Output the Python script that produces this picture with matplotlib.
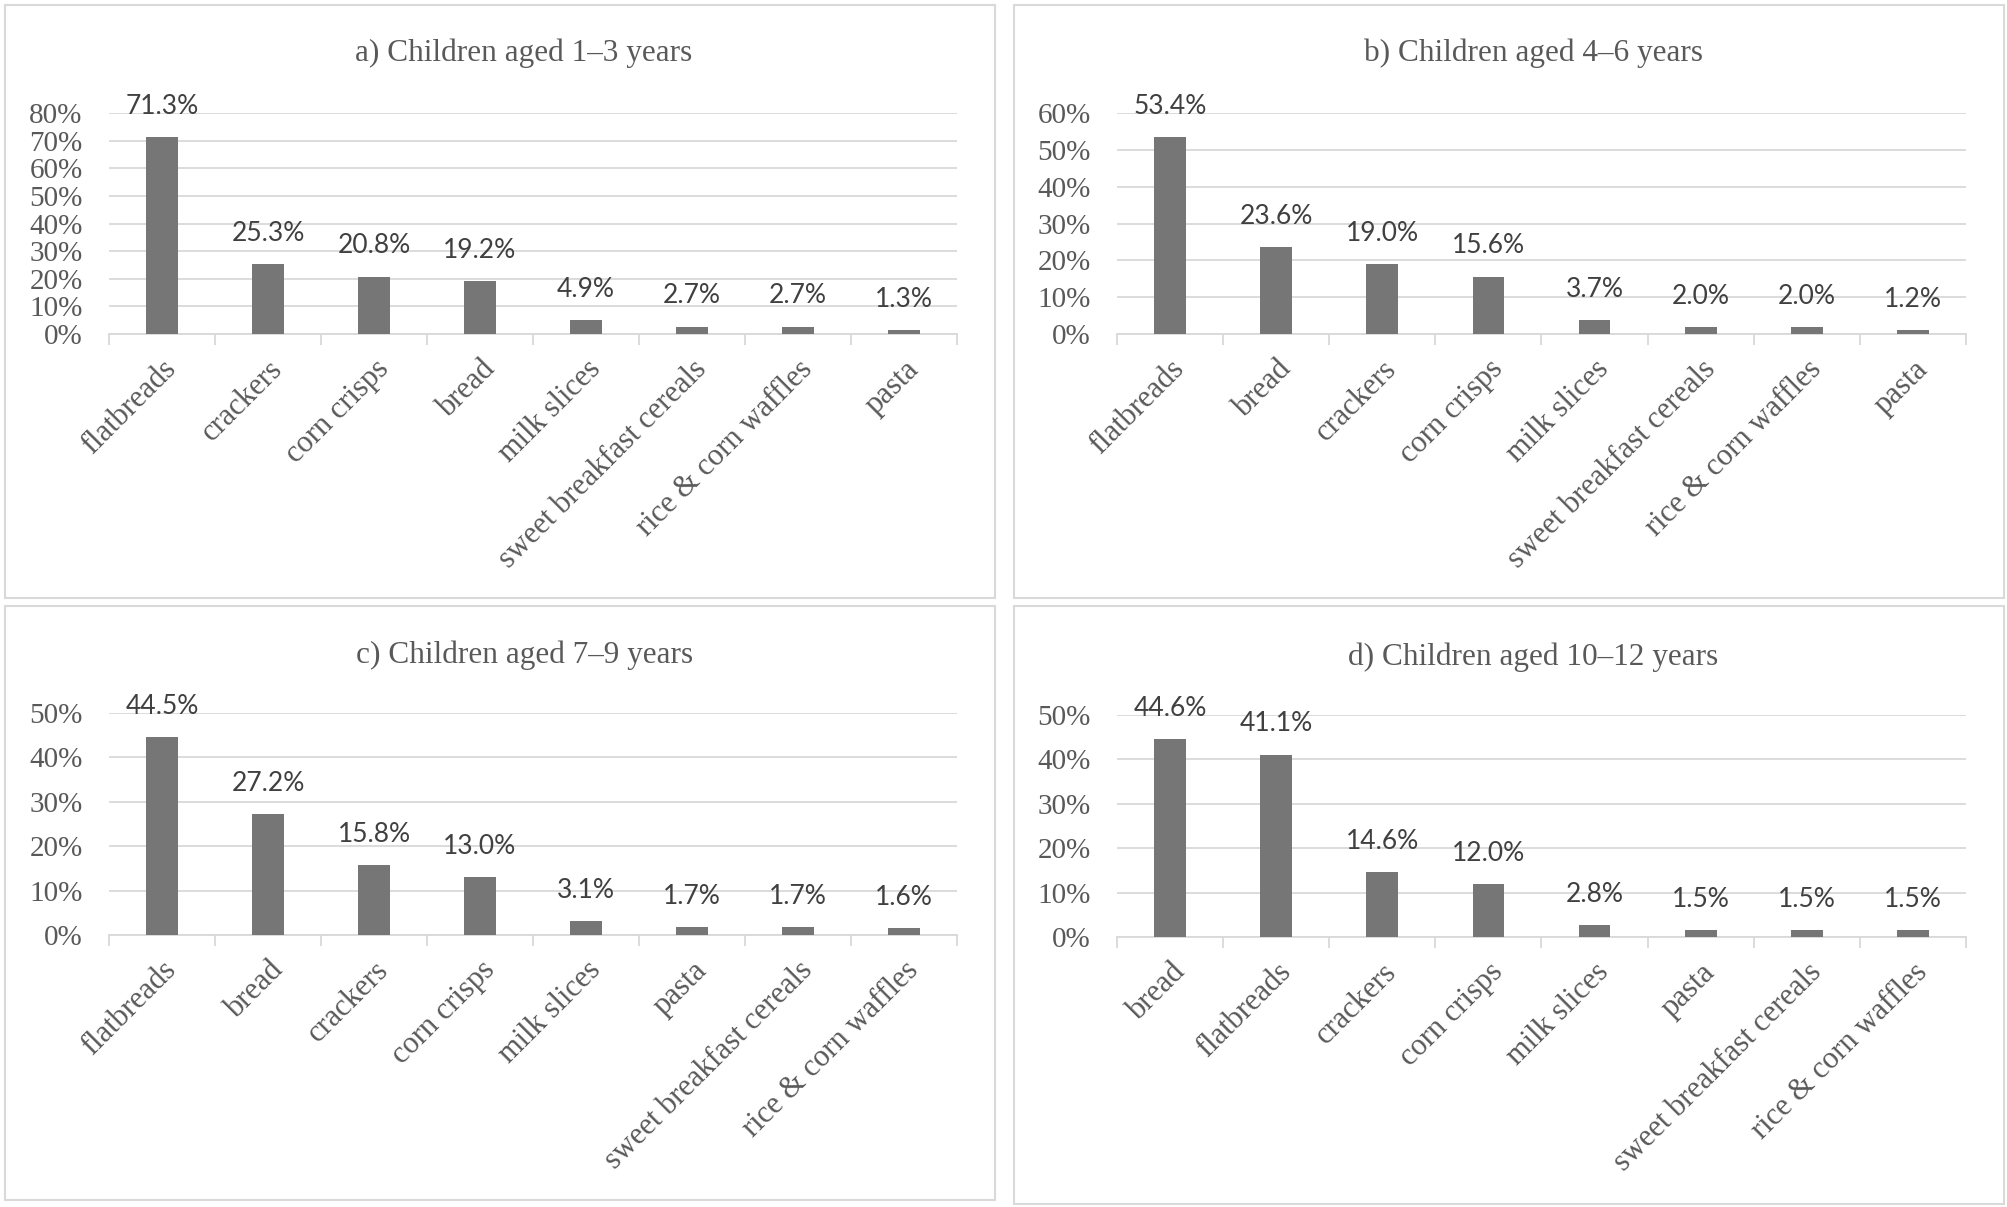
import matplotlib
matplotlib.use("Agg")
import matplotlib.pyplot as plt
from matplotlib.patches import Rectangle
from matplotlib.ticker import FuncFormatter, FixedLocator
import matplotlib.transforms as mtrans

# data for the four age groups
titles = ["a) Children aged 1\u20133 years", "b) Children aged 4\u20136 years",
          "c) Children aged 7\u20139 years", "d) Children aged 10\u201312 years"]

cats_a = ["flatbreads", "crackers", "corn crisps", "bread", "milk slices",
          "sweet breakfast cereals", "rice & corn waffles", "pasta"]
vals_a = [71.3, 25.3, 20.8, 19.2, 4.9, 2.7, 2.7, 1.3]

cats_b = ["flatbreads", "bread", "crackers", "corn crisps", "milk slices",
          "sweet breakfast cereals", "rice & corn waffles", "pasta"]
vals_b = [53.4, 23.6, 19.0, 15.6, 3.7, 2.0, 2.0, 1.2]

cats_c = ["flatbreads", "bread", "crackers", "corn crisps", "milk slices",
          "pasta", "sweet breakfast cereals", "rice & corn waffles"]
vals_c = [44.5, 27.2, 15.8, 13.0, 3.1, 1.7, 1.7, 1.6]

cats_d = ["bread", "flatbreads", "crackers", "corn crisps", "milk slices",
          "pasta", "sweet breakfast cereals", "rice & corn waffles"]
vals_d = [44.6, 41.1, 14.6, 12.0, 2.8, 1.5, 1.5, 1.5]

ymax = [80, 60, 50, 50]

BAR = "#767676"
GRID = "#d9d9d9"
TXT = "#595959"
LBL = "#404040"
SERIF = "Liberation Serif"

W, H = 2008, 1207
fig = plt.figure(figsize=(W / 100, H / 100), dpi=100)
fig.patch.set_facecolor("white")

# panel boxes in pixels (x0, y0_top, x1, y1_bottom)
boxes = [(5, 5, 995, 598), (1014, 5, 2004, 598),
         (5, 606, 995, 1200), (1014, 606, 2004, 1204)]
# plot areas in pixels (left, right, y of 0%, y of top)
plots = [(109, 957, 334, 113), (1117, 1966, 334, 113),
         (109, 957, 935, 713), (1117, 1966, 937, 715)]
title_y = [53, 53, 655, 657]

for x0, y0, x1, y1 in boxes:
    fig.add_artist(Rectangle((x0 / W, 1 - y1 / H), (x1 - x0) / W, (y1 - y0) / H,
                             transform=fig.transFigure, fill=False,
                             edgecolor=GRID, lw=1.5))

data = [(cats_a, vals_a), (cats_b, vals_b), (cats_c, vals_c), (cats_d, vals_d)]
shift = mtrans.ScaledTranslation(-4 / 100, 0, fig.dpi_scale_trans)

for i, (cats, vals) in enumerate(data):
    l, r, yb, yt = plots[i]
    ax = fig.add_axes([l / W, 1 - yb / H, (r - l) / W, (yb - yt) / H])
    x = list(range(len(cats)))
    ax.bar(x, vals, width=0.30, color=BAR, zorder=3)
    ax.set_xlim(-0.5, len(cats) - 0.5)
    ax.set_ylim(0, ymax[i])
    ax.set_yticks(range(0, ymax[i] + 1, 10))
    ax.yaxis.set_major_formatter(FuncFormatter(lambda v, p: "%d%%" % v))
    ax.grid(axis="y", color=GRID, lw=1.3, zorder=0)
    ax.set_axisbelow(True)
    for s in ["top", "right", "left"]:
        ax.spines[s].set_visible(False)
    ax.spines["bottom"].set_color(GRID)
    ax.spines["bottom"].set_linewidth(1.3)
    ax.set_xticks(x)
    ax.set_xticklabels(cats, rotation=45, ha="right", rotation_mode="anchor",
                       fontfamily=SERIF, fontsize=22, color=TXT)
    for t in ax.get_xticklabels():
        t.set_transform(t.get_transform() + shift)
    ax.xaxis.set_minor_locator(FixedLocator([k - 0.5 for k in range(len(cats) + 1)]))
    ax.tick_params(axis="x", which="major", length=0, pad=15)
    ax.tick_params(axis="x", which="minor", length=8, color=GRID, width=1.3)
    ax.tick_params(axis="y", length=0, pad=19, labelsize=21, labelcolor=TXT)
    for t in ax.get_yticklabels():
        t.set_fontfamily(SERIF)
    for xi, v in zip(x, vals):
        ax.annotate("%.1f%%" % v, (xi, v), xytext=(0, 13), textcoords="offset points",
                    ha="center", va="bottom", fontsize=19, color=LBL,
                    fontfamily="Lato", annotation_clip=False)
    cx = (boxes[i][0] + boxes[i][2]) / 2 / W
    fig.text(cx + 0.012, 1 - title_y[i] / H, titles[i], ha="center", va="center",
             fontfamily=SERIF, fontsize=22.5, color=TXT)

fig.savefig("out.png", dpi=100, facecolor="white")
